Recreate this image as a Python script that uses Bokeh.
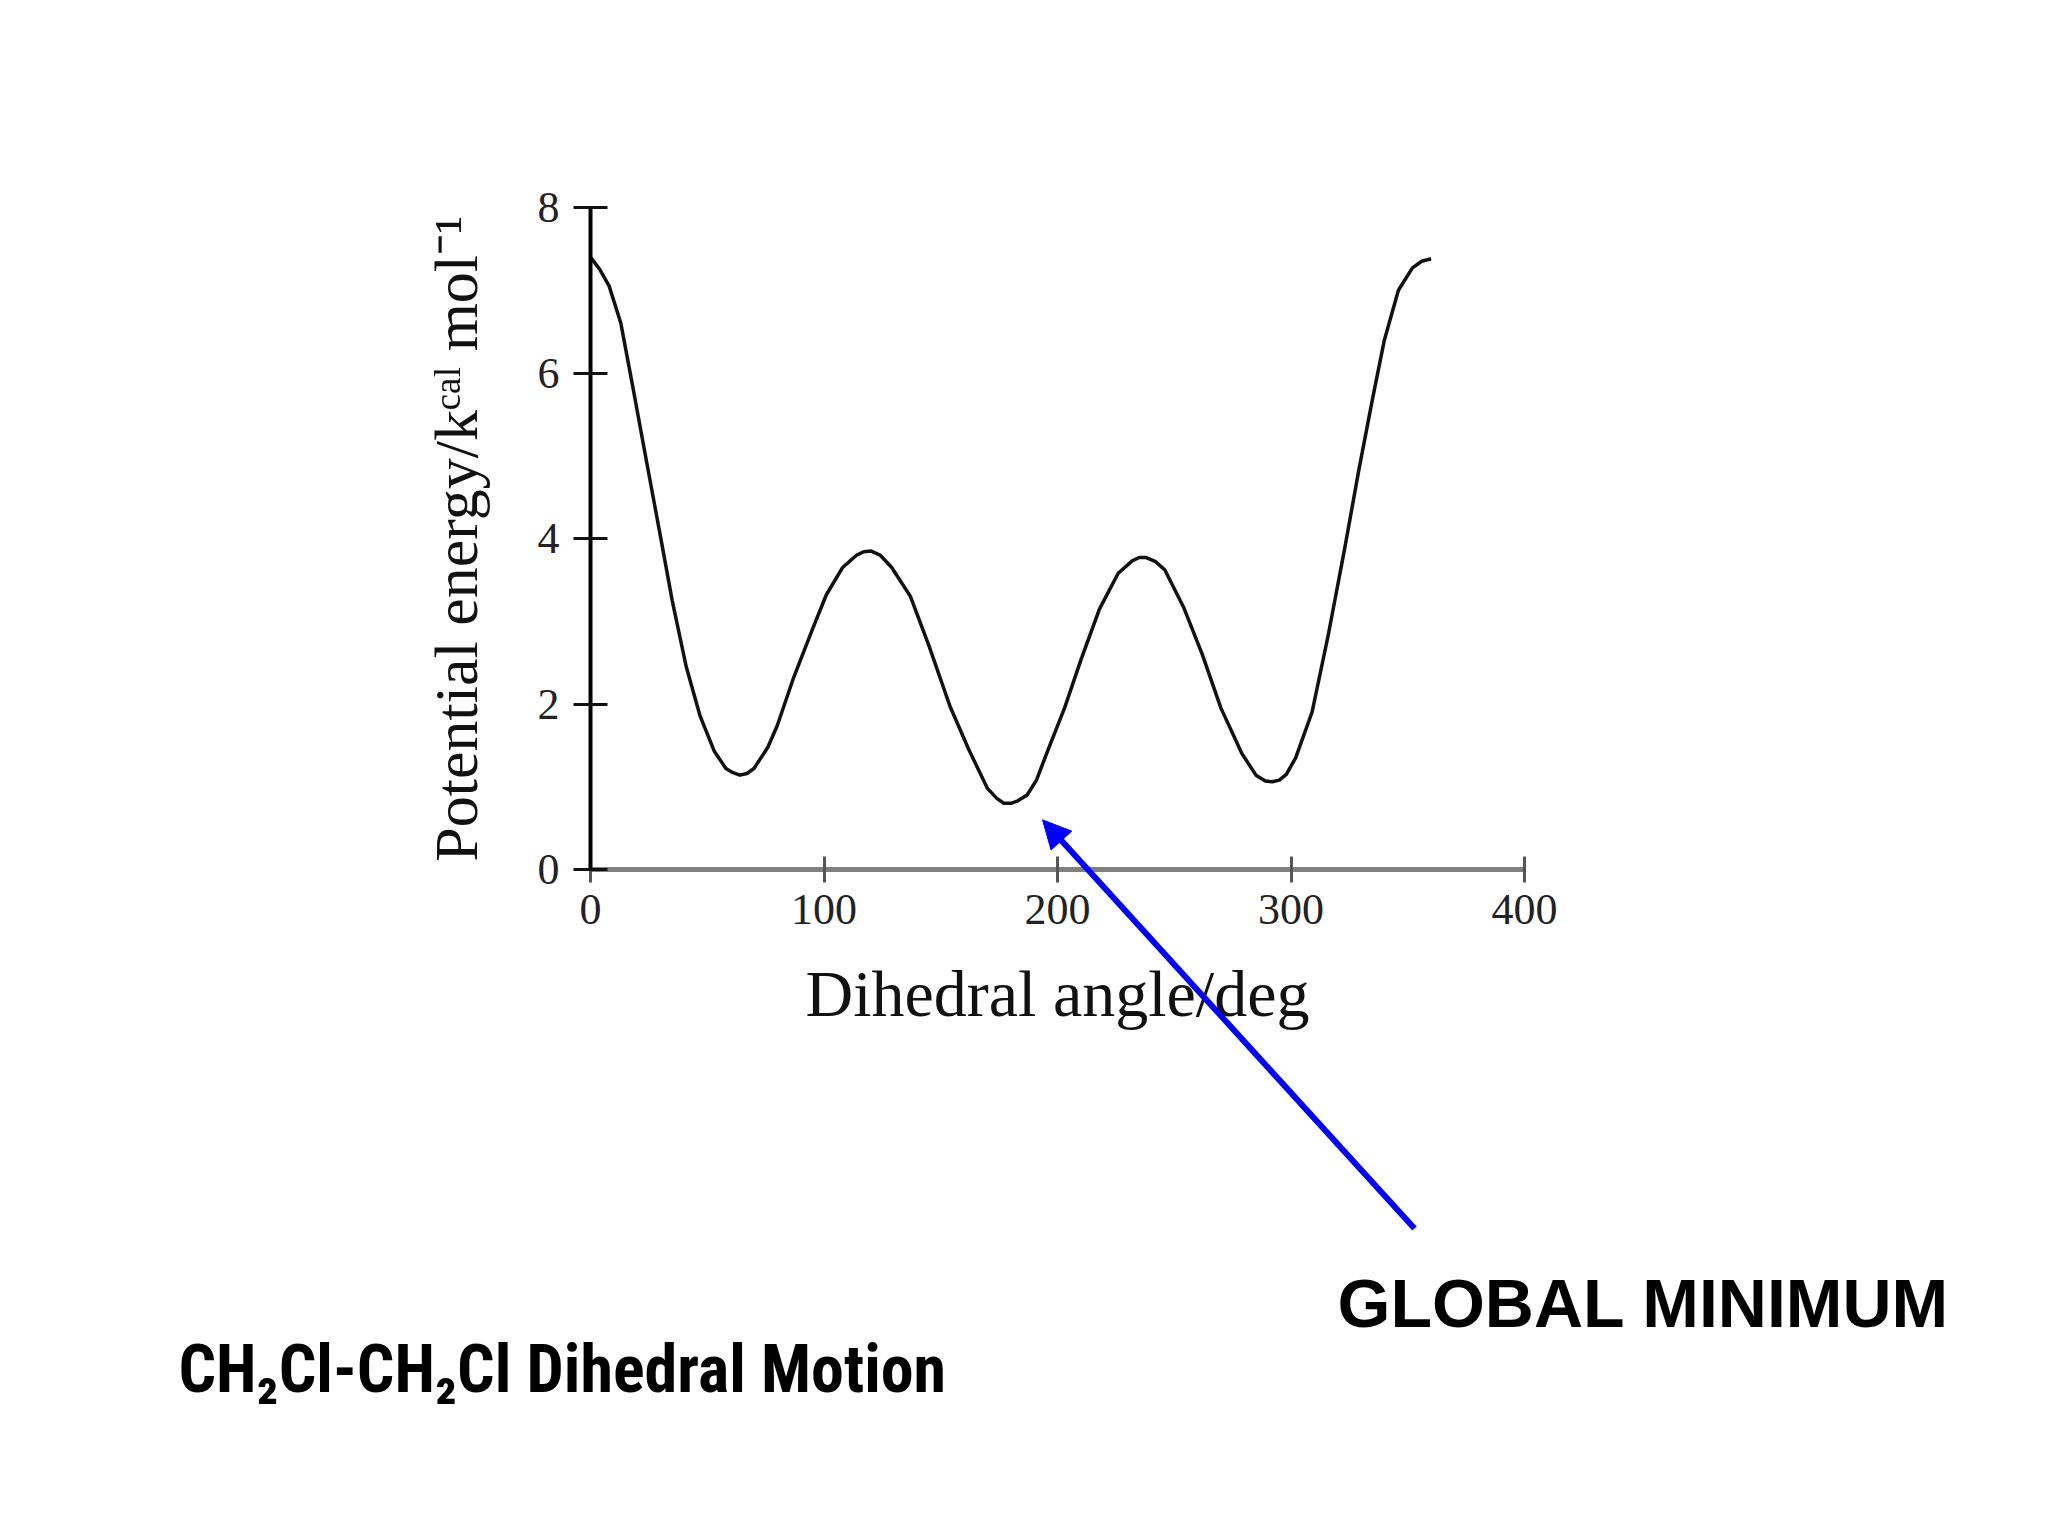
from bokeh.plotting import figure
from bokeh.models import Range1d, Label, Arrow, NormalHead, FixedTicker
from bokeh.embed import file_html
from bokeh.resources import INLINE

# ---- data ----
angle = [0, 4, 8, 13, 18, 24, 30, 35, 41, 47, 53, 58, 61, 64, 67, 70, 76, 80, 87, 95,
         101, 108, 114, 117, 120, 124, 129, 137, 145, 154, 162, 170, 174, 177, 180, 183,
         187, 191, 196, 203, 210, 218, 226, 232, 235, 238, 242, 246, 254, 262, 270, 279,
         285, 289, 292, 295, 298, 302, 309, 316, 323, 329, 335, 340, 346, 352, 356, 360]
energy = [7.40, 7.25, 7.05, 6.60, 5.85, 4.93, 4.02, 3.25, 2.45, 1.85, 1.43, 1.22, 1.17,
          1.14, 1.16, 1.22, 1.48, 1.74, 2.32, 2.90, 3.32, 3.65, 3.80, 3.84, 3.85, 3.80,
          3.65, 3.30, 2.70, 1.97, 1.45, 0.98, 0.86, 0.80, 0.80, 0.83, 0.90, 1.08, 1.45,
          1.95, 2.53, 3.15, 3.58, 3.73, 3.77, 3.77, 3.72, 3.62, 3.17, 2.60, 1.95, 1.40,
          1.14, 1.07, 1.06, 1.08, 1.15, 1.35, 1.90, 2.84, 3.88, 4.82, 5.70, 6.40, 7.00,
          7.27, 7.35, 7.38]
x_ticks = [0, 100, 200, 300, 400]
y_ticks = [0, 2, 4, 6, 8]
x_bounds = (0, 400)
y_bounds = (0, 8)
x_label = "Dihedral angle/deg"
y_label = "Potential energy/k\u1d9c\u1d43\u02e1 mol\u207b\u00b9"
annotation_text = "GLOBAL MINIMUM"
title_text = "CH\u2082Cl-CH\u2082Cl Dihedral Motion"
minimum_angle = 193.6
minimum_energy = 0.60

# ---- layout geometry (pixels in the canvas) ----
W, H = 2032, 1520
X0PX, XSCALE = 590.0, 934.0 / 400.0     # px of angle 0, px per degree
Y0PX, YSCALE = 869.0, 662.0 / 8.0       # px (from top) of energy 0, px per unit


def to_data(fx, fy):
    return (fx - X0PX) / XSCALE, (Y0PX - fy) / YSCALE


p = figure(width=W, height=H, min_border=0,
           x_range=Range1d(-X0PX / XSCALE, (W - X0PX) / XSCALE),
           y_range=Range1d(-(H - Y0PX) / YSCALE, Y0PX / YSCALE),
           output_backend="svg", toolbar_location=None, tools="")
p.outline_line_color = None
p.grid.visible = False
p.background_fill_color = "white"
p.border_fill_color = "white"

p.line(angle, energy, line_color="#111111", line_width=3.5, line_join="round")

serif = "Liberation Serif"
xa = p.xaxis[0]
xa.fixed_location = 0
xa.bounds = x_bounds
xa.ticker = FixedTicker(ticks=x_ticks)
xa.axis_line_color = "#808080"
xa.axis_line_width = 5
xa.major_tick_line_color = "#555555"
xa.major_tick_line_width = 3
xa.major_tick_in = 13
xa.major_tick_out = 13
xa.minor_tick_line_color = None
xa.major_label_text_font = serif
xa.major_label_text_font_size = "44px"
xa.major_label_text_color = "#222222"
xa.major_label_standoff = 12
xa.axis_label = x_label
xa.axis_label_text_font = serif
xa.axis_label_text_font_size = "66px"
xa.axis_label_text_font_style = "normal"
xa.axis_label_text_color = "#111111"
xa.axis_label_standoff = 30

ya = p.yaxis[0]
ya.fixed_location = 0
ya.bounds = y_bounds
ya.ticker = FixedTicker(ticks=y_ticks)
ya.axis_line_color = "#000000"
ya.axis_line_width = 4
ya.major_tick_line_color = "#111111"
ya.major_tick_line_width = 3
ya.major_tick_in = 17
ya.major_tick_out = 17
ya.minor_tick_line_color = None
ya.major_label_text_font = serif
ya.major_label_text_font_size = "44px"
ya.major_label_text_color = "#222222"
ya.major_label_standoff = 14
ya.axis_label = y_label
ya.axis_label_text_font = serif
ya.axis_label_text_font_size = "62px"
ya.axis_label_text_font_style = "normal"
ya.axis_label_text_color = "#111111"
ya.axis_label_standoff = 45

# arrow pointing at the global minimum
tx, ty = to_data(1414, 1228)
p.add_layout(Arrow(x_start=tx, y_start=ty, x_end=minimum_angle, y_end=minimum_energy,
                   line_color="#0000ff", line_width=6,
                   end=NormalHead(size=28, fill_color="#0000ff", line_color="#0000ff",
                                  line_width=1)))

gx, gy = to_data(1337, 1302)
p.add_layout(Label(x=gx, y=gy, text=annotation_text, text_font="Liberation Sans",
                   text_font_style="bold", text_font_size="68px", text_color="#000000",
                   text_align="left", text_baseline="alphabetic"))

lx, ly = to_data(178, 1369)
p.add_layout(Label(x=lx, y=ly, text=title_text, text_font="Roboto Condensed",
                   text_font_style="bold", text_font_size="66px", text_color="#000000",
                   text_align="left", text_baseline="alphabetic"))

open("out.html", "w").write(file_html(p, INLINE))
